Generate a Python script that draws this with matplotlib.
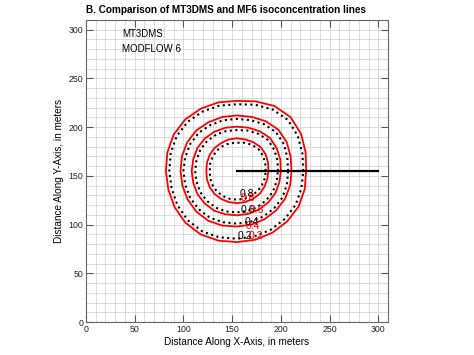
import numpy as np
import matplotlib
matplotlib.use("Agg")
import matplotlib.pyplot as plt
from matplotlib.lines import Line2D

plt.rcParams['font.family'] = ['Liberation Sans', 'DejaVu Sans']

# ---------------- data ----------------
title = "B. Comparison of MT3DMS and MF6 isoconcentration lines"
xlabel = "Distance Along X-Axis, in meters"
ylabel = "Distance Along Y-Axis, in meters"
tick_values = [0, 50, 100, 150, 200, 250, 300]
levels = [0.2, 0.4, 0.6, 0.8]
center_x = 155.0
center_y = 155.0

# angles (deg, counter-clockwise from east) at which contour radii were read
angles_deg = [0, 15, 30, 45, 60, 75, 90, 105, 120, 135, 150, 165,
              180, 195, 210, 225, 240, 255, 270, 285, 300, 315, 330, 345]

# MODFLOW 6 contour radii (m) for levels 0.2, 0.4, 0.6, 0.8
mf6_r02 = [71, 73, 76, 78, 77, 74, 72, 73, 74, 75, 75, 74,
           73, 73, 74, 75, 75, 74, 73, 73, 73, 73, 73, 72]
mf6_r04 = [56, 57, 59, 60, 59, 57.5, 57, 57.5, 58, 59, 59, 58.5,
           58, 58, 58.5, 59, 59, 58, 57, 57, 57, 57, 57, 56.5]
mf6_r06 = [45, 46, 47, 48, 47, 46, 45.5, 46, 46.5, 47, 47, 46.5,
           46.5, 46.5, 47, 47, 47, 46, 45.5, 45.5, 45.5, 45.5, 45.5, 45]
mf6_r08 = [32.2, 33, 34, 34.5, 34, 33.5, 33.6, 33.5, 33, 33, 32.5, 32,
           31.5, 32, 32.5, 33, 33, 33, 33, 33, 33, 33, 32.5, 32.2]

# MT3DMS contour radii (m) for levels 0.2, 0.4, 0.6, 0.8
mt3d_r02 = [68, 69.5, 72, 74, 73, 70.5, 68.5, 69.5, 70.5, 71.5, 71.5, 70.5,
            69.5, 69.5, 70.5, 71.5, 71.5, 70.5, 69.5, 69.5, 69.5, 69.5, 69.5, 68.5]
mt3d_r04 = [52.5, 53.5, 55.5, 56.5, 55.5, 54, 53.5, 54, 54.5, 55.5, 55.5, 55,
            55, 55, 55.5, 55.5, 55.5, 54.5, 54, 54, 54, 54, 54, 53]
mt3d_r06 = [42, 43, 44, 45, 44, 43, 42, 42.5, 43, 43.5, 43.5, 43,
            43, 43, 43.5, 43.5, 43.5, 43, 42.5, 42.5, 42.5, 42.5, 42.5, 42]
mt3d_r08 = [29.5, 30, 31, 31.5, 31, 30, 29, 29.5, 29.5, 29.5, 29, 28.5,
            28, 28.5, 29, 29.5, 29.5, 29.5, 29.5, 29.5, 29.5, 29.5, 29.5, 29.5]

# horizontal black line (x range, y)
line_x = [155, 300]
line_y = [155, 155]

# contour label positions (data coords)
mt3d_label_x = [163.5, 170.5, 166.0, 165.0]
mt3d_label_y = [88.5, 103.0, 115.0, 131.5]
mf6_label_x = [174.0, 171.0, 175.0, 166.5]
mf6_label_y = [88.0, 99.0, 114.5, 127.0]

mf6_radii = [mf6_r02, mf6_r04, mf6_r06, mf6_r08]
mt3d_radii = [mt3d_r02, mt3d_r04, mt3d_r06, mt3d_r08]

# ---------------- figure ----------------
fig = plt.figure(figsize=(4.74, 3.55), dpi=100)
ax = fig.add_axes([86/474, 33/355, 302/474, 302/355])

ax.set_xlim(0, 310)
ax.set_ylim(0, 310)

ax.set_xticks(np.arange(0, 311, 10), minor=True)
ax.set_yticks(np.arange(0, 311, 10), minor=True)
ax.grid(which='minor', color='#d6d6d6', linewidth=0.6)
ax.grid(which='major', color='#d6d6d6', linewidth=0.6)
ax.set_axisbelow(True)
ax.set_xticks(tick_values)
ax.set_yticks(tick_values)
ax.tick_params(which='major', direction='in', length=5, width=0.8, color='#555555',
               top=True, right=True, labelsize=6.3, pad=2, labelcolor='#222222')
ax.tick_params(which='minor', length=0)
for s in ax.spines.values():
    s.set_color('#666666')
    s.set_linewidth(0.8)

ang = np.deg2rad(np.array(angles_deg + [angles_deg[0]]))
for r in mt3d_radii:
    rr = np.array(r + [r[0]])
    ax.plot(center_x + rr*np.cos(ang), center_y + rr*np.sin(ang),
            color='black', linestyle=':', linewidth=1.5)
for r in mf6_radii:
    rr = np.array(r + [r[0]])
    ax.plot(center_x + rr*np.cos(ang), center_y + rr*np.sin(ang),
            color='red', linestyle='-', linewidth=1.3)

ax.plot(line_x, line_y, color='black', linewidth=1.6)

for lv, x, y in zip(levels, mt3d_label_x, mt3d_label_y):
    ax.text(x, y, f"{lv:.1f}", color='black', fontsize=7.5, ha='center', va='center')
for lv, x, y in zip(levels, mf6_label_x, mf6_label_y):
    ax.text(x, y, f"{lv:.1f}", color='red', fontsize=7.5, ha='center', va='center')

handles = [Line2D([], [], color='none'), Line2D([], [], color='none')]
ax.legend(handles, ['MT3DMS', 'MODFLOW 6'], loc='upper left', frameon=False,
          fontsize=7)

ax.set_xlabel(xlabel, fontsize=7.2, labelpad=2)
ax.set_ylabel(ylabel, fontsize=7.2, labelpad=3)
ax.set_title(title, fontsize=7.2, fontweight='bold', loc='left', pad=5)

fig.savefig("out.png", dpi=100)
